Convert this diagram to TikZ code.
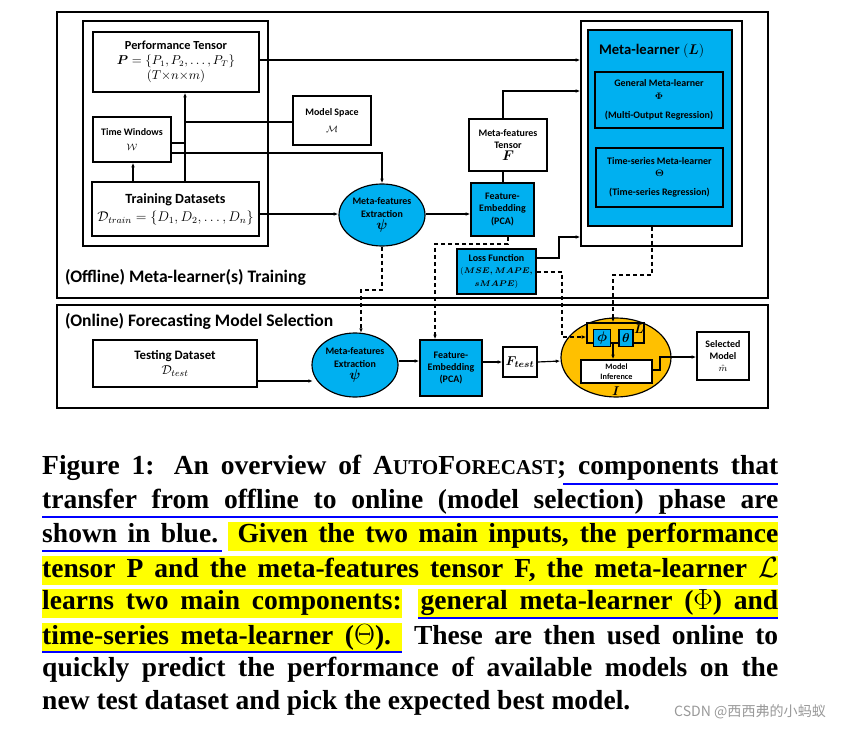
\documentclass[tikz,border=0pt]{standalone}
\usepackage{fontspec}
\usepackage{amsmath,amssymb,graphicx}
\setmainfont{Carlito}
\newfontfamily\capfont{Liberation Serif}
\newfontfamily\cjk{Noto Sans CJK SC}
\usetikzlibrary{arrows.meta,shapes.geometric}
\definecolor{cblue}{HTML}{00B0F0}
\definecolor{cyel}{HTML}{FFC000}
\definecolor{hl}{HTML}{FFFF00}
\newcommand{\fs}[1]{\fontsize{#1}{\fpeval{1.22*#1}}\selectfont}
\newsavebox{\jlbox}
\newcommand{\jl}[1]{\sbox{\jlbox}{#1}\ifdim\wd\jlbox>22.08cm\resizebox{22.08cm}{!}{\usebox{\jlbox}}\else\makebox[22.08cm][s]{#1}\fi}
\begin{document}
\begin{tikzpicture}[x=0.03cm,y=-0.03cm,
 box/.style={draw,line width=1pt,align=center,inner sep=0pt,font=\bfseries\fs{8}},
 bbox/.style={box,fill=cblue},
 ln/.style={line width=1pt},
 ar/.style={ln,-{Latex[length=4pt,width=3pt]}},
 da/.style={ln,dash pattern=on 3.5pt off 2.5pt,-{Latex[length=4pt,width=3pt]}},
 cl/.style={anchor=west,inner sep=0pt,font=\capfont\bfseries\fs{23.5}}]
\useasboundingbox (0,0) rectangle (843,731);
% outer frames
\draw[line width=1.3pt] (57,12) rectangle (768,298);
\draw[line width=1.3pt] (57,305) rectangle (768,408);
\draw[line width=1.3pt] (83,21) rectangle (268,246);
\node[anchor=west,font=\bfseries\fs{15}] (off) at (61,277) {(Offline) Meta-learner(s) Training};
\node[anchor=west,font=\bfseries\fs{15}] (on) at (61,321) {(Online) Forecasting Model Selection};
% offline nodes
\node[box,minimum width=166*0.03cm,minimum height=60*0.03cm,font=\bfseries\fs{10.5}] (perf) at (176,62) {Performance Tensor\\ $\boldsymbol{P}=\{P_1,P_2,\dots,P_T\}$\\ \mdseries$(T{\times}n{\times}m)$};
\node[box,minimum width=78*0.03cm,minimum height=45*0.03cm,font=\bfseries\fs{8.5}] (tw) at (132,139.5) {Time Windows\\[3pt] \mdseries$\mathcal{W}$};
\node[box,minimum width=167*0.03cm,minimum height=54*0.03cm,font=\bfseries\fs{12}] (train) at (175.5,209) {Training Datasets\\[1pt] \mdseries$\mathcal{D}_{train}=\{D_1,D_2,\dots,D_n\}$};
\node[box,minimum width=78*0.03cm,minimum height=49*0.03cm,font=\bfseries\fs{8.5}] (ms) at (332,120.5) {Model Space\\[4pt] \mdseries$\mathcal{M}$};
\node[ellipse,draw,line width=1pt,fill=cblue,minimum width=86*0.03cm,minimum height=62*0.03cm,align=center,inner sep=0pt,font=\bfseries\fs{8.5}] (mfe) at (382,215) {Meta-features\\Extraction\\ \fs{12}$\boldsymbol{\psi}$};
\node[box,minimum width=78*0.03cm,minimum height=52*0.03cm,font=\bfseries\fs{8.5}] (mft) at (508,145) {Meta-features\\Tensor\\ \fs{12}$\boldsymbol{F}$};
\node[bbox,minimum width=63*0.03cm,minimum height=53*0.03cm,font=\bfseries\fs{8.5}] (fe) at (502.5,209.5) {Feature-\\Embedding\\(PCA)};
\node[bbox,minimum width=79*0.03cm,minimum height=45*0.03cm,font=\bfseries\fs{8.5}] (loss) at (496.5,271.5) {Loss Function\\ \mdseries\fs{7}$(\boldsymbol{MSE,MAPE,}$\\ \fs{7}$\boldsymbol{sMAPE})$};
% meta-learner
\node[draw,line width=1pt,minimum width=161*0.03cm,minimum height=225*0.03cm,inner sep=0pt] (mlo) at (661.5,133.5) {};
\node[draw,line width=1pt,fill=cblue,minimum width=144*0.03cm,minimum height=196*0.03cm,inner sep=0pt] (mlb) at (660,128) {};
\node[anchor=west,font=\bfseries\fs{12.5}] (mlt) at (595,51) {Meta-learner $(\boldsymbol{L})$};
\node[bbox,minimum width=128*0.03cm,minimum height=56*0.03cm,font=\bfseries\fs{8.5}] (gen) at (659,100) {General Meta-learner\\ $\boldsymbol{\Phi}$\\[6pt] (Multi-Output Regression)};
\node[bbox,minimum width=127*0.03cm,minimum height=59*0.03cm,font=\bfseries\fs{8.5}] (tsm) at (659.5,177.5) {Time-series Meta-learner\\ $\boldsymbol{\Theta}$\\[6pt] (Time-series Regression)};
% online nodes
\node[box,minimum width=164*0.03cm,minimum height=47*0.03cm,font=\bfseries\fs{11}] (test) at (175,363.5) {Testing Dataset\\ \mdseries$\mathcal{D}_{test}$};
\node[ellipse,draw,line width=1pt,fill=cblue,minimum width=86*0.03cm,minimum height=64*0.03cm,align=center,inner sep=0pt,font=\bfseries\fs{8.5}] (mfe2) at (355,365) {Meta-features\\Extraction\\ \fs{12}$\boldsymbol{\psi}$};
\node[bbox,minimum width=62*0.03cm,minimum height=56*0.03cm,font=\bfseries\fs{8.5}] (fe2) at (451,368) {Feature-\\Embedding\\(PCA)};
\node[box,minimum width=34*0.03cm,minimum height=30*0.03cm,font=\fs{11}] (ft) at (520,362) {$\boldsymbol{F_{test}}$};
\node[ellipse,draw,line width=1pt,fill=cyel,minimum width=110*0.03cm,minimum height=79*0.03cm,inner sep=0pt] (inf) at (616,357.5) {};
\node[draw,line width=1pt,minimum width=57*0.03cm,minimum height=20*0.03cm,inner sep=0pt] (lb) at (615.5,333) {};
\node[bbox,minimum width=17*0.03cm,minimum height=17*0.03cm,font=\fs{12}] (phi) at (602,338) {$\boldsymbol{\phi}$};
\node[bbox,minimum width=14*0.03cm,minimum height=17*0.03cm,font=\fs{11}] (th) at (626,338) {$\boldsymbol{\theta}$};
\node[font=\fs{11}] (ll) at (639,329) {$\boldsymbol{L}$};
\node[box,fill=white,minimum width=71*0.03cm,minimum height=23*0.03cm,font=\bfseries\fs{7}] (mi) at (616.5,371.5) {Model\\Inference};
\node[font=\fs{11}] (il) at (616,391) {$\boldsymbol{I}$};
\node[box,minimum width=52*0.03cm,minimum height=48*0.03cm,font=\bfseries\fs{8.5}] (sel) at (723,356) {Selected\\Model\\ \mdseries$\hat{m}$};
% connectors offline
\draw[ar] (perf.east |- 0,60) -- (mlo.west |- 0,60);
\draw[ar] (train.north -| 185,0) -- (perf.south -| 185,0);
\draw[ar] (train.north -| 133,0) -- (tw.south -| 133,0);
\draw[ln] (ms.west |- 0,122) -- (185,122);
\draw[ln] (tw.east |- 0,143) -- (185,143);
\draw[ar] (tw.east |- 0,153) -- (382,153) -- (mfe.north);
\draw[ar] (train.east |- 0,214) -- (mfe.west |- 0,214);
\draw[ar] (mfe.east |- 0,214) -- (fe.west |- 0,214);
\draw[ln] (fe.north -| 503,0) -- (mft.south -| 503,0);
\draw[ar] (mft.north -| 503,0) -- (503,91) -- (mlo.west |- 0,91);
\draw[ar] (loss.east |- 0,258) -- (559,258) -- (559,237) -- (mlo.west |- 0,237);
% dashed
\draw[da] (mfe.south) -- (382,290) -- (361,290) -- (361,333);
\draw[da] (fe.south -| 508,0) -- (508,244) -- (435,244) -- (fe2.north -| 435,0);
\draw[da] (mlb.south -| 652,0) -- (652,275) -- (613,275) -- (lb.north -| 613,0);
\draw[da] (loss.east |- 0,272) -- (562,272) -- (562,337) -- (lb.west |- 0,337);
% online connectors
\draw[ar] (test.east |- 0,381) -- (313,381);
\draw[ar] (mfe2.east |- 0,361) -- (fe2.west |- 0,361);
\draw[ar] (fe2.east |- 0,362) -- (ft.west);
\draw[ar] (ft.east) -- (inf.west |- 0,361);
\draw[ar] (lb.south -| 613,0) -- (mi.north -| 613,0);
\draw[ar] (mi.east |- 0,370) -- (660,370) -- (660,357) -- (sel.west |- 0,357);
% caption highlights
\fill[hl] (228,522) rectangle (778,551);
\fill[hl] (42,556) rectangle (778,585);
\fill[hl] (42,589) rectangle (402,618);
\fill[hl] (418,589) rectangle (778,618);
\fill[hl] (42,623) rectangle (402,652);
\draw[blue,line width=1.5pt] (563,484) -- (778,484);
\draw[blue,line width=1.5pt] (42,517) -- (778,517);
\draw[blue,line width=1.5pt] (42,551) -- (222,551);
\draw[blue,line width=1.5pt] (418,618) -- (778,618);
\draw[blue,line width=1.5pt] (42,652) -- (402,652);
% caption
\node[cl] (c1) at (42,468) {\jl{Figure 1: An overview of A{\fs{18}UTO}F{\fs{18}ORECAST}; components that}};
\node[cl] (c2) at (42,502) {\jl{transfer from offline to online (model selection) phase are}};
\node[cl] (c3) at (42,536) {\jl{shown in blue. Given the two main inputs, the performance}};
\node[cl] (c4) at (42,570) {\jl{tensor P and the meta-features tensor F, the meta-learner $\mathcal{L}$}};
\node[cl] (c5) at (42,603) {\jl{learns two main components: general meta-learner ($\Phi$) and}};
\node[cl] (c6) at (42,637) {\jl{time-series meta-learner ($\Theta$). These are then used online to}};
\node[cl] (c7) at (42,670) {\jl{quickly predict the performance of available models on the}};
\node[cl] (c8) at (42,703) {new test dataset and pick the expected best model.};
\node[anchor=east,text=gray!80,font=\cjk\fs{12}] (wm) at (830,712) {CSDN @西西弗的小蚂蚁};
\end{tikzpicture}
\end{document}
